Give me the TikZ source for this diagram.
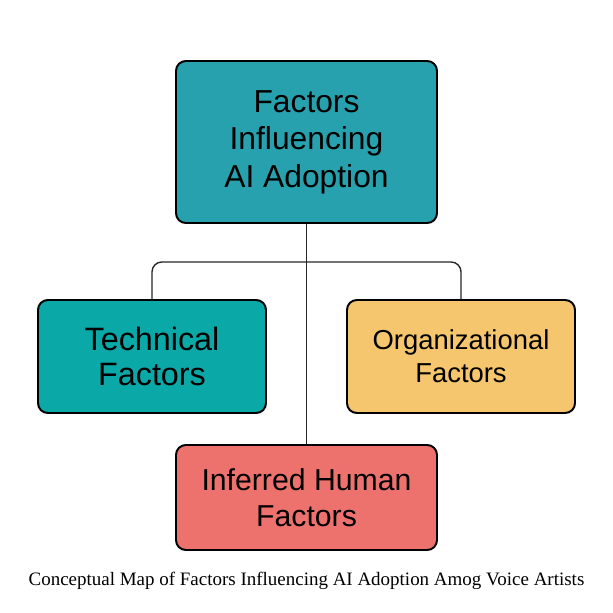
\documentclass[tikz,border=0pt]{standalone}
\usepackage{fontspec}
\setmainfont{Liberation Serif}
\setsansfont{Liberation Sans}
\usetikzlibrary{positioning}

\definecolor{topteal}{HTML}{28A1AE}
\definecolor{techteal}{HTML}{0BA8A8}
\definecolor{orgyellow}{HTML}{F5C66E}
\definecolor{humanred}{HTML}{ED726D}

\begin{document}
\begin{tikzpicture}[
    factor/.style={rectangle, rounded corners=7pt, draw=black, line width=1.4pt,
                   align=center, font=\sffamily, inner sep=0pt},
    link/.style={draw=black!85, line width=1pt}
]
  \useasboundingbox (0,0) rectangle (15.325,15.325);

  % Root of the map
  \node[factor, fill=topteal, minimum width=6.525cm, minimum height=4.05cm,
        font=\sffamily\fontsize{22.6}{26.6}\selectfont] (top) at (7.6625,11.775)
        {Factors\\Influencing\\AI Adoption};

  % Factor groups
  \node[factor, fill=techteal, minimum width=5.7cm, minimum height=2.825cm,
        font=\sffamily\fontsize{23}{25.5}\selectfont] (tech) at (3.8,6.4125)
        {Technical\\Factors};
  \node[factor, fill=orgyellow, minimum width=5.7cm, minimum height=2.825cm,
        font=\sffamily\fontsize{19.5}{23.6}\selectfont] (org) at (11.525,6.4125)
        {Organizational\\Factors};
  \node[factor, fill=humanred, minimum width=6.525cm, minimum height=2.625cm,
        font=\sffamily\fontsize{21.5}{25.5}\selectfont] (human) at (7.6625,2.8875)
        {Inferred Human\\Factors};

  % Connectors
  \coordinate (bar) at (7.6625,8.775);
  \draw[link] (top.south) -- (human.north);
  \draw[link, rounded corners=7pt] (tech.north) |- (bar) -| (org.north);

  % Caption
  \node[font=\fontsize{13.5}{16}\selectfont] (caption) at (7.6625,0.8)
       {Conceptual Map of Factors Influencing AI Adoption Amog Voice Artists};
\end{tikzpicture}
\end{document}
